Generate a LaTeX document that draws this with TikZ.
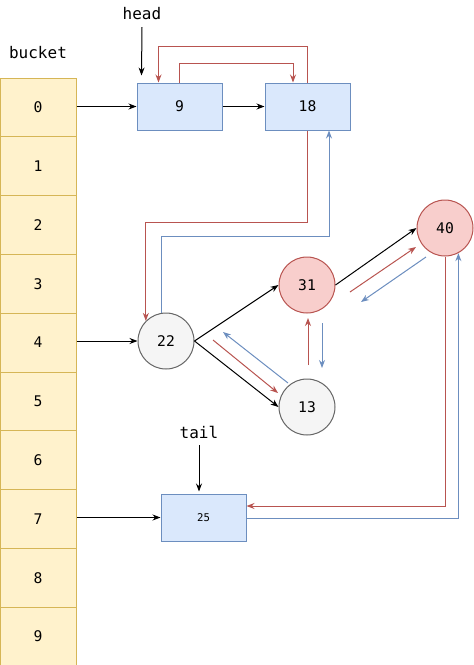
\documentclass[tikz,border=0pt]{standalone}
\usepackage{fontspec}
\setmonofont{DejaVu Sans Mono}
\usetikzlibrary{arrows.meta,calc}
\definecolor{slotfill}{HTML}{FFF2CC}
\definecolor{slotdraw}{HTML}{D6B656}
\definecolor{boxfill}{HTML}{DAE8FC}
\definecolor{boxdraw}{HTML}{6C8EBF}
\definecolor{redfill}{HTML}{F8CECC}
\definecolor{reddraw}{HTML}{B85450}
\definecolor{greyfill}{HTML}{F5F5F5}
\definecolor{greydraw}{HTML}{666666}
\tikzset{
  mono/.style={font=\ttfamily\fontsize{#1}{#1}\selectfont},
  slot/.style={draw=slotdraw, fill=slotfill, line width=0.75pt, minimum width=57pt, minimum height=44.1pt, inner sep=0pt, mono=11},
  entry/.style={draw=boxdraw, fill=boxfill, line width=0.75pt, minimum width=63.75pt, minimum height=35.25pt, inner sep=0pt, mono=11},
  ball/.style={circle, draw=#1draw, fill=#1fill, line width=0.75pt, minimum size=42pt, inner sep=0pt, mono=11},
  lab/.style={mono=12, inner sep=1pt},
  arr/.style={-{Stealth[length=6pt,width=4.5pt]}, line width=0.75pt},
  prv/.style={arr, draw=reddraw},
  nxt/.style={arr, draw=boxdraw},
}
\begin{document}
\begin{tikzpicture}[x=0.75pt, y=-0.75pt]
  \useasboundingbox (0,0) rectangle (474,665);
  % bucket array
  \foreach \i in {0,...,9} \node[slot] (b\i) at (38,{107.4+58.8*\i}) {\i};
  \node[lab] (bucket) at (38,53) {bucket};
  \node[lab] (head) at (142,14) {head};
  \node[lab] (tail) at (199,432) {tail};
  % entries
  \node[entry] (n9) at (179.5,106.5) {9};
  \node[entry] (n18) at (307.5,106.5) {18};
  \node[entry, mono=8] (n25) at (203.5,517.5) {25};
  \node[ball=grey] (n22) at (166,341) {22};
  \node[ball=red] (n31) at (307,285) {31};
  \node[ball=red] (n40) at (445,228) {40};
  \node[ball=grey] (n13) at (307,407) {13};
  % bucket / tree links
  \draw[arr] (b0.east |- n9) -- (n9.west);
  \draw[arr] (n9.east) -- (n18.west);
  \draw[arr] (b4.east |- n22) -- (n22.west);
  \draw[arr] (b7.east |- n25) -- (n25.west);
  \draw[arr] ([yshift=-4pt]head.south) -- ([shift={(5,-7)}]n9.north west);
  \draw[arr] ([yshift=-4pt]tail.south) -- ([yshift=1.5pt]tail |- n25.north);
  \draw[arr] (n22.east) -- (n31.west);
  \draw[arr] (n22.east) -- (n13.west);
  \draw[arr] (n31.east) -- (n40.west);
  % before / after links
  \draw[prv] (n18.north) -- ++(0,-36) -| ($(n9.north)+(-21,0)$);
  \draw[prv] (n9.north) -- ++(0,-19) -| ($(n18.north)+(-14.5,0)$);
  \draw[prv] (n18.south) -- ++(0,92) -| (n22.135);
  \draw[nxt] (n22.100) |- ($(n18.south)+(21.5,106)$) -- ($(n18.south)+(21.5,0)$);
  \draw[prv] (n40.south) |- ($(n25.east)+(0,-11.5)$);
  \draw[nxt] ($(n25.east)+(0,0.5)$) -| (n40.-62);
  % free links between tree nodes
  \coordinate (r1) at (213,340); \coordinate (r1e) at (278,393);
  \coordinate (u1) at (288,383); \coordinate (u1e) at (223,332);
  \coordinate (r2) at (308,365); \coordinate (r2e) at (308,318);
  \coordinate (u2) at (322,323); \coordinate (u2e) at (322,368);
  \coordinate (r3) at (350,292); \coordinate (r3e) at (416,247);
  \coordinate (u3) at (426,257); \coordinate (u3e) at (361,302);
  \foreach \k in {1,2,3} { \draw[prv] (r\k) -- (r\k e); \draw[nxt] (u\k) -- (u\k e); }
\end{tikzpicture}
\end{document}
